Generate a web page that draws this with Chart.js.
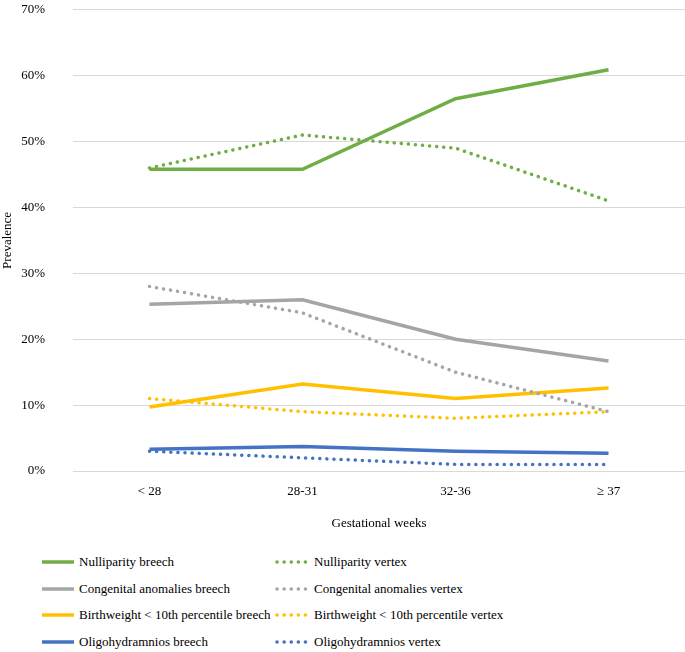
<!DOCTYPE html>
<html lang="en">
<head>
  <meta charset="UTF-8">
  <title>Prevalence by gestational weeks</title>
  <script src="https://cdn.jsdelivr.net/npm/chart.js"></script>
  <style>
    body { margin: 0; background: #fff; font-family: 'Liberation Serif', 'DejaVu Serif', serif; }
    #wrap { position: relative; width: 685px; height: 652px; overflow: hidden; }
    #box { position: absolute; left: 0; top: -26px; width: 685px; height: 561px; }
    #legend { position: absolute; left: 40px; top: 550px; width: 640px; }
    .item { position: absolute; height: 24px; font-size: 13px; color: #000; white-space: nowrap; }
    .item canvas { position: absolute; left: 0; top: 4px; }
    .item span { position: absolute; left: 39px; top: 0; line-height: 24px; }
  </style>
</head>
<body>
  <div id="wrap">
    <div id="box"><canvas id="chart"></canvas></div>
    <div id="legend"></div>
  </div>

  <script>
    const weeks = ['< 28', '28-31', '32-36', '≥ 37'];

    const nulliparityBreech = [45.8, 45.8, 56.5, 60.9];
    const nulliparityVertex = [46.0, 51.0, 49.0, 41.0];
    const anomaliesBreech = [25.3, 26.0, 20.0, 16.7];
    const anomaliesVertex = [28.0, 24.0, 15.0, 9.0];
    const birthweightBreech = [9.7, 13.2, 11.0, 12.6];
    const birthweightVertex = [11.0, 9.0, 8.0, 9.0];
    const oligoBreech = [3.3, 3.7, 3.0, 2.7];
    const oligoVertex = [3.0, 2.0, 1.0, 1.0];

    const green = '#70AD47', grey = '#A5A5A5', yellow = '#FFC000', blue = '#4472C4';

    function solid(label, data, color) {
      return { label, data, borderColor: color, backgroundColor: color, borderWidth: 3.5,
               pointRadius: 0, fill: false, tension: 0 };
    }
    function dotted(label, data, color) {
      return { label, data, borderColor: color, backgroundColor: color, borderWidth: 3.5,
               borderDash: [0.1, 7], borderCapStyle: 'round',
               pointRadius: 0, fill: false, tension: 0 };
    }

    const datasets = [
      solid('Nulliparity breech', nulliparityBreech, green),
      dotted('Nulliparity vertex', nulliparityVertex, green),
      solid('Congenital anomalies breech', anomaliesBreech, grey),
      dotted('Congenital anomalies vertex', anomaliesVertex, grey),
      solid('Birthweight < 10th percentile breech', birthweightBreech, yellow),
      dotted('Birthweight < 10th percentile vertex', birthweightVertex, yellow),
      solid('Oligohydramnios breech', oligoBreech, blue),
      dotted('Oligohydramnios vertex', oligoVertex, blue)
    ];

    Chart.defaults.font.family = "'Liberation Serif', 'DejaVu Serif', serif";
    Chart.defaults.font.size = 13;
    Chart.defaults.color = '#000';

    const chart = new Chart(document.getElementById('chart'), {
      type: 'line',
      data: { labels: weeks, datasets },
      options: {
        responsive: true,
        maintainAspectRatio: false,
        animation: false,
        layout: { padding: 0 },
        plugins: { legend: { display: false }, tooltip: { enabled: false } },
        scales: {
          x: {
            offset: true,
            grid: { display: false },
            border: { display: false },
            ticks: { padding: 5 },
            title: { display: true, text: 'Gestational weeks', padding: { top: 11 } },
            afterFit(s) { s.height = 64; }
          },
          y: {
            min: 0, max: 70,
            ticks: { stepSize: 10, padding: 28, callback: v => v + '%' },
            grid: { color: '#D9D9D9', lineWidth: 1, drawTicks: false },
            border: { display: false },
            title: { display: true, text: 'Prevalence', padding: 0 },
            afterFit(s) { s.width = 73; }
          }
        }
      }
    });

    // legend built from the chart's own datasets, two columns
    const legend = document.getElementById('legend');
    chart.data.datasets.forEach((ds, i) => {
      const item = document.createElement('div');
      item.className = 'item';
      item.style.left = (i % 2 ? 235 : 0) + 'px';
      item.style.top = (Math.floor(i / 2) * 26.7) + 'px';
      const c = document.createElement('canvas');
      c.width = 36; c.height = 16;
      const g = c.getContext('2d');
      g.strokeStyle = ds.borderColor;
      g.lineWidth = 3.5;
      g.lineCap = ds.borderDash ? 'round' : 'butt';
      if (ds.borderDash) g.setLineDash(ds.borderDash);
      g.beginPath(); g.moveTo(2, 8); g.lineTo(34, 8); g.stroke();
      const t = document.createElement('span');
      t.textContent = ds.label;
      item.appendChild(c); item.appendChild(t);
      legend.appendChild(item);
    });
  </script>
</body>
</html>
